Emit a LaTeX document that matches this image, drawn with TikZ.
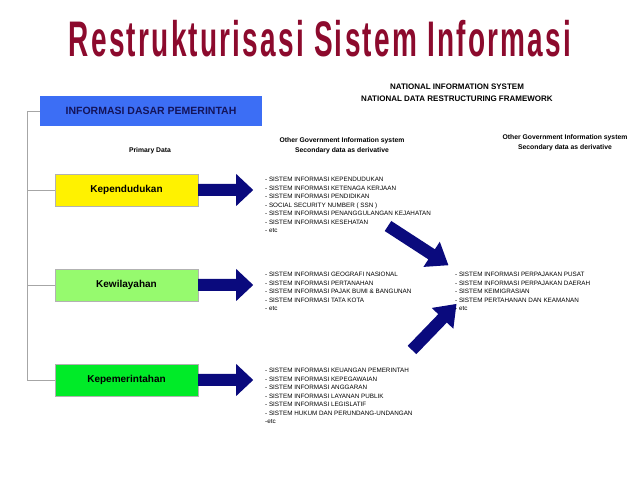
\documentclass[tikz,border=0pt]{standalone}
\usepackage{fontspec}
\setmainfont{Liberation Sans}
\begin{document}
\begin{tikzpicture}[x=1pt,y=-1pt,
  cat/.style={draw=black!30,minimum width=143pt,minimum height=32pt,font=\bfseries\fontsize{10}{12}\selectfont,inner sep=0},
  lst/.style={anchor=north west,align=left,font=\fontsize{6.3}{8.5}\selectfont,inner sep=0},
  hdr/.style={align=center,font=\bfseries\fontsize{6.8}{10}\selectfont,inner sep=0},
  tree/.style={draw=black!35,line width=0.7pt},
  fat/.style={fill=navy}]
\definecolor{navy}{RGB}{10,10,125}
\definecolor{tred}{RGB}{140,10,45}
\useasboundingbox (0,0) rectangle (638,478);
\node[text=tred,font=\bfseries\fontsize{50}{50}\selectfont] (title) at (320,39) {\scalebox{0.56}[1]{\addfontfeature{LetterSpace=8}Restrukturisasi Sistem Informasi}};
\node[hdr,font=\bfseries\fontsize{8}{12}\selectfont] (nis) at (457,93) {NATIONAL INFORMATION SYSTEM\\NATIONAL DATA RESTRUCTURING FRAMEWORK};
\node[fill={rgb,255:red,60;green,110;blue,245},minimum width=222pt,minimum height=30pt,text={rgb,255:red,20;green,20;blue,90},font=\bfseries\fontsize{10.5}{12}\selectfont,inner sep=0] (idp) at (151,111) {INFORMASI DASAR PEMERINTAH};
\node[hdr] (pd) at (150,151) {Primary Data};
\node[hdr] (og1) at (342,146) {Other Government Information system\\Secondary data as derivative};
\node[hdr] (og2) at (565,143) {Other Government Information system\\Secondary data as derivative};
\node[cat,fill=yellow] (k1) at (126.5,190) {Kependudukan};
\node[cat,fill={rgb,255:red,150;green,250;blue,110}] (k2) at (126.5,285) {Kewilayahan};
\node[cat,fill={rgb,255:red,0;green,235;blue,40}] (k3) at (126.5,380) {Kepemerintahan};
\coordinate (t0) at (27,111);
\coordinate (t3) at (27,380);
\draw[tree] (idp.west) -- (t0) -- (t3) -- (k3.west);
\draw[tree] (27,190) -- (k1.west);
\draw[tree] (27,285) -- (k2.west);
\foreach \k in {k1,k2,k3}{
  \begin{scope}[shift={(\k.east)}]
  \fill[fat] (0,-6) -- (38,-6) -- (38,-16) -- (55,0) -- (38,16) -- (38,6) -- (0,6) -- cycle;
  \end{scope}}
\begin{scope}[shift={(388,226)},rotate=-33]
\fill[fat] (0,-6) -- (52,-6) -- (52,-15) -- (72,0) -- (52,15) -- (52,6) -- (0,6) -- cycle;
\end{scope}
\begin{scope}[shift={(412,350)},rotate=46]
\fill[fat] (0,-6) -- (44,-6) -- (44,-15) -- (64,0) -- (44,15) -- (44,6) -- (0,6) -- cycle;
\end{scope}
\node[lst] (l1) at (265,177) {- SISTEM INFORMASI KEPENDUDUKAN\\- SISTEM INFORMASI KETENAGA KERJAAN\\- SISTEM INFORMASI PENDIDIKAN\\- SOCIAL SECURITY NUMBER ( SSN )\\- SISTEM INFORMASI PENANGGULANGAN KEJAHATAN\\- SISTEM INFORMASI KESEHATAN\\- etc};
\node[lst] (l2) at (265,272) {- SISTEM INFORMASI GEOGRAFI NASIONAL\\- SISTEM INFORMASI PERTANAHAN\\- SISTEM INFORMASI PAJAK BUMI \& BANGUNAN\\- SISTEM INFORMASI TATA KOTA\\- etc};
\node[lst] (l3) at (265,368) {- SISTEM INFORMASI KEUANGAN PEMERINTAH\\- SISTEM INFORMASI KEPEGAWAIAN\\- SISTEM INFORMASI ANGGARAN\\- SISTEM INFORMASI LAYANAN PUBLIK\\- SISTEM INFORMASI LEGISLATIF\\- SISTEM HUKUM DAN PERUNDANG-UNDANGAN\\-etc};
\node[lst] (l4) at (455,272) {- SISTEM INFORMASI PERPAJAKAN PUSAT\\- SISTEM INFORMASI PERPAJAKAN DAERAH\\- SISTEM KEIMIGRASIAN\\- SISTEM PERTAHANAN DAN KEAMANAN\\- etc};
\end{tikzpicture}
\end{document}
